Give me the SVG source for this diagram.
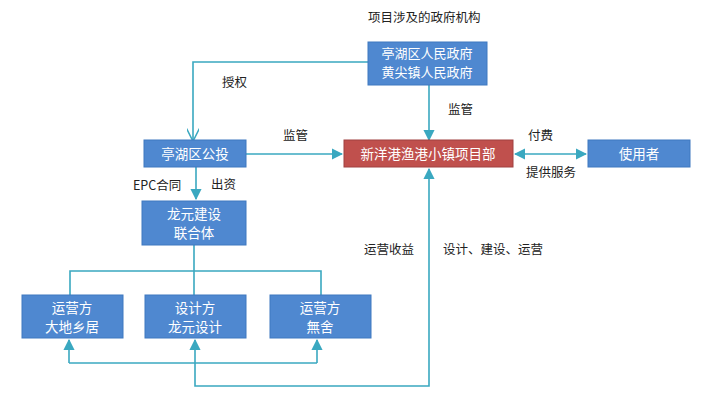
<svg xmlns="http://www.w3.org/2000/svg" width="720" height="405" viewBox="0 0 720 405">
<style>
text{font-family:"Noto Sans CJK SC","Liberation Sans",sans-serif;font-size:12.5px;fill:#222}
.b{fill:#4f88d0;stroke:#3f78c0}
.w{fill:#fff;text-anchor:middle;font-size:13.5px}
.s{font-size:13px}
.c{fill:none;stroke:#3aa8c0;stroke-width:1.6}
</style>
<defs>
<marker id="a" viewBox="0 0 10 10" refX="9" refY="5" markerWidth="7" markerHeight="7" orient="auto-start-reverse"><path d="M0,0L10,5L0,10z" fill="#3aa8c0"/></marker>
<marker id="o" viewBox="0 0 10 10" refX="9" refY="5" markerWidth="8" markerHeight="8" orient="auto"><path d="M0,0L10,5L0,10" fill="none" stroke="#3aa8c0" stroke-width="1.2"/></marker>
</defs>
<rect width="720" height="405" fill="#fff"/>
<text x="368" y="22">项目涉及的政府机构</text>
<g id="connectors">
<path class="c" d="M368,62H193V140" marker-end="url(#o)"/>
<path class="c" d="M429,85V140" marker-end="url(#a)"/>
<path class="c" d="M246,154H342" marker-end="url(#a)"/>
<path class="c" d="M515,154H586" marker-start="url(#a)" marker-end="url(#a)"/>
<path class="c" d="M196,167V199" marker-end="url(#a)"/>
<path class="c" d="M194,245V295M70,295V271H321V295"/>
<path class="c" d="M69,363H317"/>
<path class="c" d="M69,363V340" marker-end="url(#a)"/>
<path class="c" d="M195,363V340" marker-end="url(#a)"/>
<path class="c" d="M317,363V340" marker-end="url(#a)"/>
<path class="c" d="M195,363V386H429V169" marker-end="url(#a)"/>
</g>
<g id="gov"><rect class="b" x="368" y="42" width="119" height="43"/><text class="w s" x="427" y="58">亭湖区人民政府</text><text class="w s" x="427" y="77">黄尖镇人民政府</text></g>
<g id="gongtou"><rect class="b" x="144" y="140" width="102" height="27"/><text class="w" x="195" y="159">亭湖区公投</text></g>
<g id="project"><rect x="344" y="140" width="169" height="27" fill="#c0504d" stroke="#a04040"/><text class="w" x="428" y="159">新洋港渔港小镇项目部</text></g>
<g id="user"><rect class="b" x="588" y="140" width="102" height="27"/><text class="w" x="639" y="159">使用者</text></g>
<g id="longyuan"><rect class="b" x="142" y="201" width="104" height="44"/><text class="w" x="194" y="219">龙元建设</text><text class="w" x="194" y="238">联合体</text></g>
<g id="op1"><rect class="b" x="22" y="295" width="101" height="43"/><text class="w" x="72" y="313">运营方</text><text class="w" x="72" y="332">大地乡居</text></g>
<g id="des"><rect class="b" x="145" y="295" width="101" height="43"/><text class="w" x="195" y="313">设计方</text><text class="w" x="195" y="332">龙元设计</text></g>
<g id="op2"><rect class="b" x="270" y="295" width="101" height="43"/><text class="w" x="320" y="313">运营方</text><text class="w" x="320" y="332">無舍</text></g>
<text x="222" y="87">授权</text>
<text x="448" y="114">监管</text>
<text x="283" y="140">监管</text>
<text x="528" y="140">付费</text>
<text x="526" y="177">提供服务</text>
<text x="133" y="190">EPC合同</text>
<text x="211" y="189">出资</text>
<text x="364" y="254">运营收益</text>
<text x="443" y="254">设计、建设、运营</text>
</svg>
